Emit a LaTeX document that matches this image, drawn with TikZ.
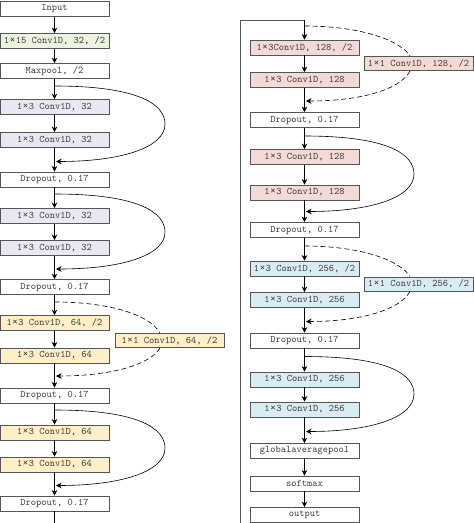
\documentclass[tikz,border=0pt]{standalone}
\usetikzlibrary{arrows.meta}
\definecolor{cgreen}{RGB}{236,243,222}
\definecolor{clav}{RGB}{233,231,242}
\definecolor{cyel}{RGB}{255,239,198}
\definecolor{cpink}{RGB}{243,218,212}
\definecolor{cblue}{RGB}{218,236,243}
\definecolor{cedge}{RGB}{85,85,85}
\definecolor{ctext}{RGB}{60,60,60}
\newcommand\mx{\kern0.3pt{\fontsize{11.5}{10}\selectfont ×}\kern0.3pt}
\tikzset{
  blk/.style={draw=cedge, line width=0.9pt, minimum width=109pt, minimum height=15pt, inner sep=0pt,
    font=\ttfamily\fontsize{10}{10}\selectfont, text=ctext},
  plain/.style={blk, fill=white},
  gblk/.style={blk, fill=cgreen},
  lblk/.style={blk, fill=clav},
  yblk/.style={blk, fill=cyel},
  pblk/.style={blk, fill=cpink},
  bblk/.style={blk, fill=cblue},
  arr/.style={line width=0.7pt, -{Stealth[length=5.5pt,width=5.5pt]}},
  skiparr/.style={line width=0.6pt, -{Stealth[length=5.5pt,width=5.5pt]}},
  dskip/.style={skiparr, dashed, dash pattern=on 5pt off 3pt},
  dline/.style={line width=0.6pt, dashed, dash pattern=on 5pt off 3pt},
}
\begin{document}
\begin{tikzpicture}[x=1pt,y=-1pt]
\useasboundingbox (0,0) rectangle (474,523);
% ---------- left column ----------
\node[plain] (in) at (54.5,9) {Input};
\node[gblk] (c15) at (54.5,41) {1\mx15 Conv1D, 32, /2};
\node[plain] (mp) at (54.5,71) {Maxpool, /2};
\node[lblk] (a1) at (54.5,107) {1\mx3 Conv1D, 32};
\node[lblk] (a2) at (54.5,140) {1\mx3 Conv1D, 32};
\node[plain] (d1) at (54.5,179.5) {Dropout, 0.17};
\node[lblk] (b1) at (54.5,216) {1\mx3 Conv1D, 32};
\node[lblk] (b2) at (54.5,248) {1\mx3 Conv1D, 32};
\node[plain] (d2) at (54.5,287) {Dropout, 0.17};
\node[yblk] (e1) at (54.5,323) {1\mx3 Conv1D, 64, /2};
\node[yblk, minimum height=14pt] (e1s) at (169.5,340.5) {1\mx1 Conv1D, 64, /2};
\node[yblk] (e2) at (54.5,355.5) {1\mx3 Conv1D, 64};
\node[plain] (d3) at (54.5,395.5) {Dropout, 0.17};
\node[yblk] (f1) at (54.5,432.5) {1\mx3 Conv1D, 64};
\node[yblk] (f2) at (54.5,464.5) {1\mx3 Conv1D, 64};
\node[plain] (d4) at (54.5,503.5) {Dropout, 0.17};
\coordinate (lout) at (54.5,523);

\draw[arr] (in) -- (c15);
\draw[arr] (c15) -- (mp);
\draw[arr] (mp) -- (a1);
\draw[arr] (a1) -- (a2);
\draw[arr] (a2) -- (d1);
\draw[arr] (d1) -- (b1);
\draw[arr] (b1) -- (b2);
\draw[arr] (b2) -- (d2);
\draw[arr] (d2) -- (e1);
\draw[arr] (e1) -- (e2);
\draw[arr] (e2) -- (d3);
\draw[arr] (d3) -- (f1);
\draw[arr] (f1) -- (f2);
\draw[arr] (f2) -- (d4);
\draw[line width=0.7pt] (d4) -- (lout);

% skip connections left
\coordinate (s1) at (54.5,86);  \coordinate (t1) at (56,161.5);
\draw[skiparr] (s1) .. controls (140,86) and (165,105) .. (165,124)
                   .. controls (165,148) and (120,161.5) .. (t1);
\coordinate (s2) at (54.5,194);  \coordinate (t2) at (56,269);
\draw[skiparr] (s2) .. controls (140,194) and (165,213) .. (165,232)
                   .. controls (165,256) and (120,269) .. (t2);
\coordinate (s3) at (54.5,302);  \coordinate (t3) at (56,376);
\draw[dline] (s3) .. controls (110,302) and (150,315) .. (e1s.north -| 160,0);
\draw[dskip] (e1s.south -| 160,0) .. controls (150,365) and (110,376) .. (t3);
\coordinate (s4) at (54.5,410);  \coordinate (t4) at (56,485.5);
\draw[skiparr] (s4) .. controls (140,410) and (165,429) .. (165,448)
                   .. controls (165,472) and (120,485.5) .. (t4);

% ---------- right column ----------
\coordinate (rin) at (240,523);
\coordinate (rtop) at (240,20);
\node[pblk] (r1) at (304.5,47.5) {1\mx3Conv1D, 128, /2};
\node[pblk, minimum height=14pt] (r1s) at (418.5,63.5) {1\mx1 Conv1D, 128, /2};
\node[pblk] (r2) at (304.5,80) {1\mx3 Conv1D, 128};
\node[plain] (rd1) at (304.5,120) {Dropout, 0.17};
\node[pblk] (r3) at (304.5,157) {1\mx3 Conv1D, 128};
\node[pblk] (r4) at (304.5,192.5) {1\mx3 Conv1D, 128};
\node[plain] (rd2) at (304.5,230) {Dropout, 0.17};
\node[bblk] (u1) at (304.5,268.5) {1\mx3 Conv1D, 256, /2};
\node[bblk, minimum height=14pt] (u1s) at (418.5,284) {1\mx1 Conv1D, 256, /2};
\node[bblk] (u2) at (304.5,300) {1\mx3 Conv1D, 256};
\node[plain] (rd3) at (304.5,340.5) {Dropout, 0.17};
\node[bblk] (u3) at (304.5,379.5) {1\mx3 Conv1D, 256};
\node[bblk] (u4) at (304.5,409.5) {1\mx3 Conv1D, 256};
\node[plain] (gap) at (304.5,451) {globalaveragepool};
\node[plain] (sm) at (304.5,483.5) {softmax};
\node[plain] (out) at (304.5,515) {output};

\draw[line width=0.9pt, draw=cedge] (rin) -- (rtop) -- (304.5,20);
\draw[arr] (304.5,20) -- (r1);
\draw[arr] (r1) -- (r2);
\draw[arr] (r2) -- (rd1);
\draw[arr] (rd1) -- (r3);
\draw[arr] (r3) -- (r4);
\draw[arr] (r4) -- (rd2);
\draw[arr] (rd2) -- (u1);
\draw[arr] (u1) -- (u2);
\draw[arr] (u2) -- (rd3);
\draw[arr] (rd3) -- (u3);
\draw[arr] (u3) -- (u4);
\draw[arr] (u4) -- (gap);
\draw[arr] (gap) -- (sm);
\draw[arr] (sm) -- (out);

\coordinate (p1) at (304.5,26);  \coordinate (q1) at (306,101);
\draw[dline] (p1) .. controls (360,26) and (400,40) .. (r1s.north -| 410,0);
\draw[dskip] (r1s.south -| 410,0) .. controls (400,90) and (360,101) .. (q1);
\coordinate (p2) at (304.5,136);  \coordinate (q2) at (306,211.5);
\draw[skiparr] (p2) .. controls (390,136) and (414,155) .. (414,174)
                   .. controls (414,198) and (370,211.5) .. (q2);
\coordinate (p3) at (304.5,246);  \coordinate (q3) at (306,321.5);
\draw[dline] (p3) .. controls (360,246) and (400,260) .. (u1s.north -| 410,0);
\draw[dskip] (u1s.south -| 410,0) .. controls (400,310) and (360,321.5) .. (q3);
\coordinate (p4) at (304.5,356.5);  \coordinate (q4) at (306,431.5);
\draw[skiparr] (p4) .. controls (390,356.5) and (414,375) .. (414,394)
                   .. controls (414,418) and (370,431.5) .. (q4);
\end{tikzpicture}
\end{document}
